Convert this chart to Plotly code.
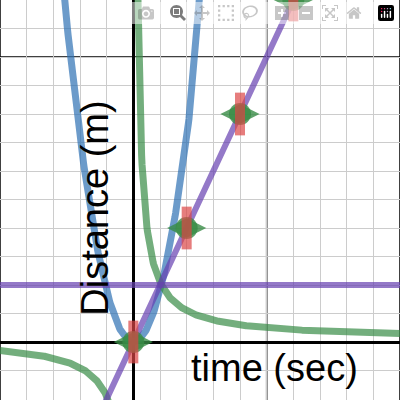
import plotly.graph_objects as go
import numpy as np

# data
pts_x = [0, 2, 4, 6]
pts_y = [0, 4, 8, 12]
line_slope = 2.0
hline_y = 2.0
parab_a = 1.8
hyp_k, hyp_c = 2.0, 0.1

x_range = [-5, 10]
y_range = [-2.035, 12]

fig = go.Figure()

xs = np.linspace(-5, 10, 600)
# blue parabola
fig.add_trace(go.Scatter(x=xs, y=parab_a * xs ** 2, mode="lines",
                         line=dict(color="rgba(45,112,179,0.7)", width=7)))
# green hyperbola, two branches
xl = np.linspace(-5, -0.01, 300)
xr = np.linspace(0.01, 10, 600)
fig.add_trace(go.Scatter(x=xl, y=hyp_k / xl + hyp_c, mode="lines",
                         line=dict(color="rgba(56,140,70,0.7)", width=7)))
fig.add_trace(go.Scatter(x=xr, y=hyp_k / xr + hyp_c, mode="lines",
                         line=dict(color="rgba(56,140,70,0.7)", width=7)))
# purple lines
fig.add_trace(go.Scatter(x=xs, y=line_slope * xs, mode="lines",
                         line=dict(color="rgba(102,64,176,0.7)", width=6)))
fig.add_trace(go.Scatter(x=x_range, y=[hline_y, hline_y], mode="lines",
                         line=dict(color="rgba(102,64,176,0.7)", width=6)))
# points: green blob with red bar
fig.add_trace(go.Scatter(x=pts_x, y=pts_y, mode="markers",
                         marker=dict(size=28, color="rgba(56,140,70,0.8)",
                                     symbol="diamond-wide")))
fig.add_trace(go.Scatter(x=pts_x, y=pts_y, mode="markers",
                         marker=dict(size=22, color="rgba(56,140,70,0.8)")))
fig.add_trace(go.Scatter(x=pts_x, y=pts_y, mode="markers",
                         marker=dict(size=1, color="rgba(0,0,0,0)"),
                         error_y=dict(type="constant", value=0.75, thickness=10,
                                      width=0, color="rgba(220,70,70,0.7)")))

fig.add_annotation(x=5.3, y=-0.9, text="time (sec)", showarrow=False,
                   font=dict(size=38, family="Liberation Sans", color="black"))
fig.add_annotation(x=-1.45, y=4.7, text="Distance (m)", showarrow=False,
                   textangle=-90,
                   font=dict(size=38, family="Liberation Sans", color="black"))

fig.update_xaxes(range=x_range, dtick=1, showgrid=True, gridcolor="#cccccc",
                 gridwidth=1, zeroline=True, zerolinecolor="black", zerolinewidth=2.5,
                 showticklabels=False)
fig.update_yaxes(range=y_range, dtick=1, showgrid=True, gridcolor="#cccccc",
                 gridwidth=1, zeroline=True, zerolinecolor="black", zerolinewidth=2.5,
                 showticklabels=False)
# major grid lines
for xv in [-5, 5, 10]:
    fig.add_vline(x=xv, line=dict(color="black", width=1.5), layer="below")
fig.add_hline(y=10, line=dict(color="black", width=1.5), layer="below")

fig.update_layout(width=400, height=400, margin=dict(l=0, r=0, t=0, b=0),
                  plot_bgcolor="white", paper_bgcolor="white", showlegend=False)
fig.write_html("out.html", post_script="document.body.style.margin='0';")
